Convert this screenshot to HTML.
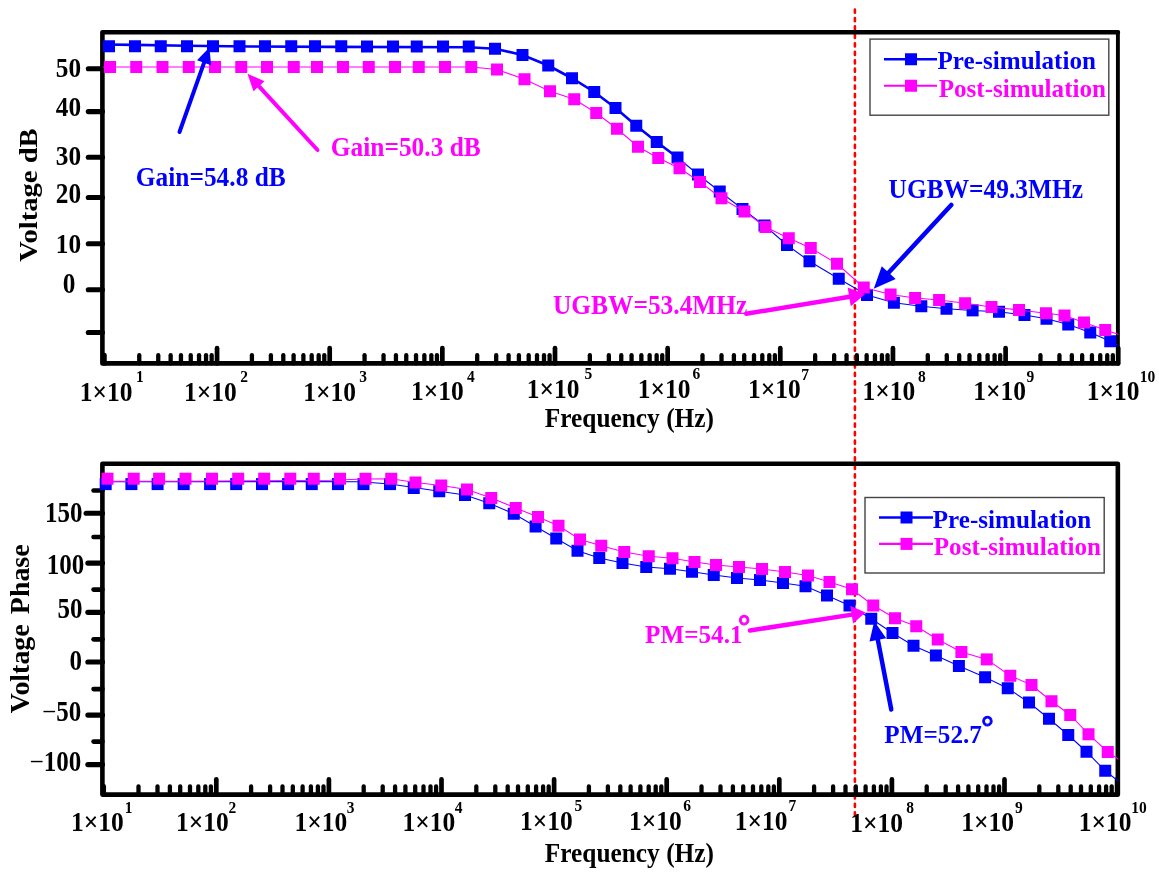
<!DOCTYPE html>
<html><head><meta charset="utf-8"><title>Bode plot</title>
<style>html,body{margin:0;padding:0;background:#fff}svg{display:block}text{font-family:"Liberation Serif","Times New Roman",serif;font-weight:bold}</style>
</head><body>
<svg width="1159" height="879" viewBox="0 0 1159 879">
<rect width="1159" height="879" fill="#fff"/>
<line x1="854.9" y1="9.5" x2="854.9" y2="819" stroke="#ff0000" stroke-width="2.6" stroke-dasharray="3.2 5.25" stroke-linecap="round"/>
<path d="M1117.9,32.3 L102.4,32.3 L102.4,363.4 L1117.9,363.4" fill="none" stroke="#000" stroke-width="4.6" stroke-linejoin="round" stroke-linecap="round"/>
<line x1="1117.9" y1="32.3" x2="1117.9" y2="363.4" stroke="#000" stroke-width="3.9" stroke-linecap="round"/>
<g stroke="#000" stroke-width="4.3" stroke-linecap="round"><line x1="104.4" y1="363.4" x2="104.4" y2="355.2" stroke-width="4.7"/><line x1="217.05" y1="363.4" x2="217.05" y2="348.2" stroke-width="4.7"/><line x1="139.25" y1="363.4" x2="139.25" y2="355.2"/><line x1="158.25" y1="363.4" x2="158.25" y2="355.2"/><line x1="170.65" y1="363.4" x2="170.65" y2="355.2"/><line x1="180.95" y1="363.4" x2="180.95" y2="355.2"/><line x1="190.75" y1="363.4" x2="190.75" y2="355.2"/><line x1="199.05" y1="363.4" x2="199.05" y2="355.2"/><line x1="206.05" y1="363.4" x2="206.05" y2="355.2"/><line x1="211.65" y1="363.4" x2="211.65" y2="355.2"/><line x1="329.7" y1="363.4" x2="329.7" y2="348.2" stroke-width="4.7"/><line x1="251.9" y1="363.4" x2="251.9" y2="355.2"/><line x1="270.9" y1="363.4" x2="270.9" y2="355.2"/><line x1="283.3" y1="363.4" x2="283.3" y2="355.2"/><line x1="293.6" y1="363.4" x2="293.6" y2="355.2"/><line x1="303.4" y1="363.4" x2="303.4" y2="355.2"/><line x1="311.7" y1="363.4" x2="311.7" y2="355.2"/><line x1="318.7" y1="363.4" x2="318.7" y2="355.2"/><line x1="324.3" y1="363.4" x2="324.3" y2="355.2"/><line x1="442.35" y1="363.4" x2="442.35" y2="348.2" stroke-width="4.7"/><line x1="364.55" y1="363.4" x2="364.55" y2="355.2"/><line x1="383.55" y1="363.4" x2="383.55" y2="355.2"/><line x1="395.95" y1="363.4" x2="395.95" y2="355.2"/><line x1="406.25" y1="363.4" x2="406.25" y2="355.2"/><line x1="416.05" y1="363.4" x2="416.05" y2="355.2"/><line x1="424.35" y1="363.4" x2="424.35" y2="355.2"/><line x1="431.35" y1="363.4" x2="431.35" y2="355.2"/><line x1="436.95" y1="363.4" x2="436.95" y2="355.2"/><line x1="555" y1="363.4" x2="555" y2="348.2" stroke-width="4.7"/><line x1="477.2" y1="363.4" x2="477.2" y2="355.2"/><line x1="496.2" y1="363.4" x2="496.2" y2="355.2"/><line x1="508.6" y1="363.4" x2="508.6" y2="355.2"/><line x1="518.9" y1="363.4" x2="518.9" y2="355.2"/><line x1="528.7" y1="363.4" x2="528.7" y2="355.2"/><line x1="537" y1="363.4" x2="537" y2="355.2"/><line x1="544" y1="363.4" x2="544" y2="355.2"/><line x1="549.6" y1="363.4" x2="549.6" y2="355.2"/><line x1="667.65" y1="363.4" x2="667.65" y2="348.2" stroke-width="4.7"/><line x1="589.85" y1="363.4" x2="589.85" y2="355.2"/><line x1="608.85" y1="363.4" x2="608.85" y2="355.2"/><line x1="621.25" y1="363.4" x2="621.25" y2="355.2"/><line x1="631.55" y1="363.4" x2="631.55" y2="355.2"/><line x1="641.35" y1="363.4" x2="641.35" y2="355.2"/><line x1="649.65" y1="363.4" x2="649.65" y2="355.2"/><line x1="656.65" y1="363.4" x2="656.65" y2="355.2"/><line x1="662.25" y1="363.4" x2="662.25" y2="355.2"/><line x1="780.3" y1="363.4" x2="780.3" y2="348.2" stroke-width="4.7"/><line x1="702.5" y1="363.4" x2="702.5" y2="355.2"/><line x1="721.5" y1="363.4" x2="721.5" y2="355.2"/><line x1="733.9" y1="363.4" x2="733.9" y2="355.2"/><line x1="744.2" y1="363.4" x2="744.2" y2="355.2"/><line x1="754" y1="363.4" x2="754" y2="355.2"/><line x1="762.3" y1="363.4" x2="762.3" y2="355.2"/><line x1="769.3" y1="363.4" x2="769.3" y2="355.2"/><line x1="774.9" y1="363.4" x2="774.9" y2="355.2"/><line x1="892.95" y1="363.4" x2="892.95" y2="348.2" stroke-width="4.7"/><line x1="815.15" y1="363.4" x2="815.15" y2="355.2"/><line x1="834.15" y1="363.4" x2="834.15" y2="355.2"/><line x1="846.55" y1="363.4" x2="846.55" y2="355.2"/><line x1="856.85" y1="363.4" x2="856.85" y2="355.2"/><line x1="866.65" y1="363.4" x2="866.65" y2="355.2"/><line x1="874.95" y1="363.4" x2="874.95" y2="355.2"/><line x1="881.95" y1="363.4" x2="881.95" y2="355.2"/><line x1="887.55" y1="363.4" x2="887.55" y2="355.2"/><line x1="1005.6" y1="363.4" x2="1005.6" y2="348.2" stroke-width="4.7"/><line x1="927.8" y1="363.4" x2="927.8" y2="355.2"/><line x1="946.8" y1="363.4" x2="946.8" y2="355.2"/><line x1="959.2" y1="363.4" x2="959.2" y2="355.2"/><line x1="969.5" y1="363.4" x2="969.5" y2="355.2"/><line x1="979.3" y1="363.4" x2="979.3" y2="355.2"/><line x1="987.6" y1="363.4" x2="987.6" y2="355.2"/><line x1="994.6" y1="363.4" x2="994.6" y2="355.2"/><line x1="1000.2" y1="363.4" x2="1000.2" y2="355.2"/><line x1="1118.25" y1="363.4" x2="1118.25" y2="348.2" stroke-width="4.7"/><line x1="1040.45" y1="363.4" x2="1040.45" y2="355.2"/><line x1="1059.45" y1="363.4" x2="1059.45" y2="355.2"/><line x1="1071.85" y1="363.4" x2="1071.85" y2="355.2"/><line x1="1082.15" y1="363.4" x2="1082.15" y2="355.2"/><line x1="1091.95" y1="363.4" x2="1091.95" y2="355.2"/><line x1="1100.25" y1="363.4" x2="1100.25" y2="355.2"/><line x1="1107.25" y1="363.4" x2="1107.25" y2="355.2"/><line x1="1112.85" y1="363.4" x2="1112.85" y2="355.2"/></g>
<g stroke="#000" stroke-width="5.1" stroke-linecap="round">
<line x1="88.3" y1="68.8" x2="102.4" y2="68.8"/>
<line x1="88.3" y1="111.6" x2="102.4" y2="111.6"/>
<line x1="88.3" y1="157.2" x2="102.4" y2="157.2"/>
<line x1="88.3" y1="197.5" x2="102.4" y2="197.5"/>
<line x1="88.3" y1="243.8" x2="102.4" y2="243.8"/>
<line x1="88.3" y1="289.7" x2="102.4" y2="289.7"/>
<line x1="88.3" y1="332.5" x2="102.4" y2="332.5"/>
</g>
<clipPath id="ct"><rect x="102.4" y="32.3" width="1016.0000000000001" height="331.09999999999997"/></clipPath>
<g clip-path="url(#ct)">
<polyline fill="none" stroke="#0000ff" stroke-width="2.6" points="102.4,44.5 135,44.9 187,45.7 250,46.5 330,46.9 468.75,47.2 495,48.75 522.5,55 548.25,65.5 572,78.25 594.25,92 615.5,108 636.25,125.75 656.75,142 677.5,157.5"/>
<polyline fill="none" stroke="#0000ff" stroke-width="1.05" points="677.5,157.5 698,174.5 719.75,191.5 742.5,209 764.5,225.5 787,245 809.5,261.25 838.75,278.75 867,295 893.9,302.75 921.3,306.25 946.5,308.75 972.6,310.4 999,311.75 1024.5,315 1046.5,318.75 1068.25,324.5 1090.25,332.5 1110.25,341.25 1118.9,345.5"/>
</g>
<g fill="#0000ff"><rect x="103" y="40.25" width="12" height="12"/><rect x="129" y="40.25" width="12" height="12"/><rect x="154.75" y="40.25" width="12" height="12"/><rect x="181" y="40.25" width="12" height="12"/><rect x="207" y="40.25" width="12" height="12"/><rect x="233.5" y="40.25" width="12" height="12"/><rect x="259" y="40.25" width="12" height="12"/><rect x="285.25" y="40.25" width="12" height="12"/><rect x="309" y="40.25" width="12" height="12"/><rect x="335.25" y="40.25" width="12" height="12"/><rect x="361" y="40.5" width="12" height="12"/><rect x="387" y="40.5" width="12" height="12"/><rect x="410.75" y="40.5" width="12" height="12"/><rect x="437" y="40.5" width="12" height="12"/><rect x="462.75" y="40.5" width="12" height="12"/><rect x="489" y="42.75" width="12" height="12"/><rect x="516.5" y="49" width="12" height="12"/><rect x="542.25" y="59.5" width="12" height="12"/><rect x="566" y="72.25" width="12" height="12"/><rect x="588.25" y="86" width="12" height="12"/><rect x="609.5" y="102" width="12" height="12"/><rect x="630.25" y="119.75" width="12" height="12"/><rect x="650.75" y="136" width="12" height="12"/><rect x="671.5" y="151.5" width="12" height="12"/><rect x="692" y="168.5" width="12" height="12"/><rect x="713.75" y="185.5" width="12" height="12"/><rect x="736.5" y="203" width="12" height="12"/><rect x="758.5" y="219.5" width="12" height="12"/><rect x="781" y="239" width="12" height="12"/><rect x="803.5" y="255.25" width="12" height="12"/><rect x="832.75" y="272.75" width="12" height="12"/><rect x="861" y="289" width="12" height="12"/><rect x="887.9" y="296.75" width="12" height="12"/><rect x="915.3" y="300.25" width="12" height="12"/><rect x="940.5" y="302.75" width="12" height="12"/><rect x="966.6" y="304.4" width="12" height="12"/><rect x="993" y="305.75" width="12" height="12"/><rect x="1018.5" y="309" width="12" height="12"/><rect x="1040.5" y="312.75" width="12" height="12"/><rect x="1062.25" y="318.5" width="12" height="12"/><rect x="1084.25" y="326.5" width="12" height="12"/><rect x="1104.25" y="335.25" width="12" height="12"/></g>
<g clip-path="url(#ct)">
<polyline fill="none" stroke="#ff00ff" stroke-width="1.05" points="102.4,67 110,67 136.25,67 162.5,67 188.75,67 215,67 241.25,67 267,67 293.75,67 317,67 343,67 368.75,67 395,67 418.75,67 445,67 471.25,67 497,69.5 524.5,79.25 550,91.25 574.25,99.25 596.25,113 617,128.75 638,146.75 658.25,158 679.5,168.25 700,182 721.5,198.25 744.4,211.5 765.5,227 788.75,238.25 810.75,248 837,263.75 863.75,287.5 890.6,294.5 915.1,298 939.1,300 965.1,303.25 991.5,307 1019,310 1046,313.25 1064.5,315.5 1084,322.5 1105.25,330 1118.9,334.5"/>
</g>
<g fill="#ff00ff"><rect x="104" y="61" width="12" height="12"/><rect x="130.25" y="61" width="12" height="12"/><rect x="156.5" y="61" width="12" height="12"/><rect x="182.75" y="61" width="12" height="12"/><rect x="209" y="61" width="12" height="12"/><rect x="235.25" y="61" width="12" height="12"/><rect x="261" y="61" width="12" height="12"/><rect x="287.75" y="61" width="12" height="12"/><rect x="311" y="61" width="12" height="12"/><rect x="337" y="61" width="12" height="12"/><rect x="362.75" y="61" width="12" height="12"/><rect x="389" y="61" width="12" height="12"/><rect x="412.75" y="61" width="12" height="12"/><rect x="439" y="61" width="12" height="12"/><rect x="465.25" y="61" width="12" height="12"/><rect x="491" y="63.5" width="12" height="12"/><rect x="518.5" y="73.25" width="12" height="12"/><rect x="544" y="85.25" width="12" height="12"/><rect x="568.25" y="93.25" width="12" height="12"/><rect x="590.25" y="107" width="12" height="12"/><rect x="611" y="122.75" width="12" height="12"/><rect x="632" y="140.75" width="12" height="12"/><rect x="652.25" y="152" width="12" height="12"/><rect x="673.5" y="162.25" width="12" height="12"/><rect x="694" y="176" width="12" height="12"/><rect x="715.5" y="192.25" width="12" height="12"/><rect x="738.4" y="205.5" width="12" height="12"/><rect x="759.5" y="221" width="12" height="12"/><rect x="782.75" y="232.25" width="12" height="12"/><rect x="804.75" y="242" width="12" height="12"/><rect x="831" y="257.75" width="12" height="12"/><rect x="857.75" y="281.5" width="12" height="12"/><rect x="884.6" y="288.5" width="12" height="12"/><rect x="909.1" y="292" width="12" height="12"/><rect x="933.1" y="294" width="12" height="12"/><rect x="959.1" y="297.25" width="12" height="12"/><rect x="985.5" y="301" width="12" height="12"/><rect x="1013" y="304" width="12" height="12"/><rect x="1040" y="307.25" width="12" height="12"/><rect x="1058.5" y="309.5" width="12" height="12"/><rect x="1078" y="316.5" width="12" height="12"/><rect x="1099.25" y="324" width="12" height="12"/></g>
<line x1="179.5" y1="132" x2="204.72" y2="60.8" stroke="#0000ff" stroke-width="4" stroke-linecap="round"/><polygon fill="#0000ff" points="209.4,47.6 211.13,65.19 196.99,60.18"/>
<line x1="317.5" y1="150" x2="257.64" y2="84.8" stroke="#ff00ff" stroke-width="4" stroke-linecap="round"/><polygon fill="#ff00ff" points="247.5,73.75 264.52,81.2 253.47,91.35"/>
<line x1="951.25" y1="205" x2="887.33" y2="274.07" stroke="#0000ff" stroke-width="4.5" stroke-linecap="round"/><polygon fill="#0000ff" points="873.75,288.75 881.72,266.15 895.66,279.06"/>
<line x1="746.25" y1="313.75" x2="851.19" y2="296.47" stroke="#ff00ff" stroke-width="4.5" stroke-linecap="round"/><polygon fill="#ff00ff" points="865,294.2 850.76,306.17 847.67,287.43"/>
<g font-size="25.3" text-anchor="end">
<text transform="translate(81.1,67.2) scale(1,1.12)" x="0" y="8.45">50</text>
<text transform="translate(81.1,106.8) scale(1,1.09)" x="0" y="8.45">40</text>
<text transform="translate(81.1,156) scale(1,1.09)" x="0" y="8.45">30</text>
<text transform="translate(81.1,193.3) scale(1,1.15)" x="0" y="8.45">20</text>
<text transform="translate(81.1,243.2) scale(1,1.1)" x="0" y="8.45">10</text>
<text transform="translate(75.3,282.8) scale(1,1.15)" x="0" y="8.45">0</text>
</g>
<text transform="translate(37.3,195) rotate(-90) scale(1.145,1)" text-anchor="middle" font-size="25">Voltage dB</text>
<text transform="translate(79.7,400.5) scale(1,1.09)" font-size="25.5">1×10</text><text transform="translate(135.9,382.4) scale(1,1.1)" font-size="15.5">1</text>
<text transform="translate(184,400.5) scale(1,1.09)" font-size="25.5">1×10</text><text transform="translate(240.3,382.4) scale(1,1.1)" font-size="15.5">2</text>
<text transform="translate(303.3,400.5) scale(1,1.09)" font-size="25.5">1×10</text><text transform="translate(359.3,382.4) scale(1,1.1)" font-size="15.5">3</text>
<text transform="translate(411.1,399.9) scale(1,1.09)" font-size="25.5">1×10</text><text transform="translate(467.1,381.8) scale(1,1.1)" font-size="15.5">4</text>
<text transform="translate(526.7,397.5) scale(1,1.09)" font-size="25.5">1×10</text><text transform="translate(584.4,379.4) scale(1,1.1)" font-size="15.5">5</text>
<text transform="translate(637.8,397.5) scale(1,1.09)" font-size="25.5">1×10</text><text transform="translate(692.5,379.4) scale(1,1.1)" font-size="15.5">6</text>
<text transform="translate(748,398.3) scale(1,1.09)" font-size="25.5">1×10</text><text transform="translate(801.3,380.2) scale(1,1.1)" font-size="15.5">7</text>
<text transform="translate(862.6,400.2) scale(1,1.09)" font-size="25.5">1×10</text><text transform="translate(918.1,382.1) scale(1,1.1)" font-size="15.5">8</text>
<text transform="translate(973.3,400.2) scale(1,1.09)" font-size="25.5">1×10</text><text transform="translate(1026.5,382.1) scale(1,1.1)" font-size="15.5">9</text>
<text transform="translate(1086.8,400.2) scale(1,1.09)" font-size="25.5">1×10</text><text transform="translate(1139.7,382.1) scale(1,1.1)" font-size="15.5">10</text>
<text transform="translate(544.8,426.6) scale(1,1.04)" font-size="25.35" fill="#000">Frequency (Hz)</text>
<text transform="translate(135.8,185.5) scale(1,1.04)" font-size="25.4" fill="#0000ff">Gain=54.8 dB</text><text transform="translate(330.8,155.5) scale(1,1.04)" font-size="25.4" fill="#ff00ff">Gain=50.3 dB</text><text transform="translate(888.6,198) scale(1,1.04)" font-size="25.4" fill="#0000ff">UGBW=49.3MHz</text><text transform="translate(553,314.3) scale(1,1.04)" font-size="25.4" fill="#ff00ff">UGBW=53.4MHz</text>
<rect x="870" y="39.1" width="238.79999999999995" height="76.1" fill="#fff" stroke="#444" stroke-width="1.4"/><line x1="884" y1="59.25" x2="937" y2="59.25" stroke="#0000ff" stroke-width="2.7"/><rect x="905" y="53.25" width="12" height="12" fill="#0000ff"/><line x1="884" y1="85.75" x2="937" y2="85.75" stroke="#ff00ff" stroke-width="2.1"/><rect x="905" y="79.75" width="12" height="12" fill="#ff00ff"/><text transform="translate(937.5,69.05) scale(1,1.04)" font-size="25.1" fill="#0000ff">Pre-simulation</text><text transform="translate(938.7,96.55) scale(1,1.04)" font-size="25.1" fill="#ff00ff">Post-simulation</text>
<rect x="102.4" y="463.8" width="1015.4499999999999" height="330.8" fill="none" stroke="#000" stroke-width="4.6" stroke-linejoin="round"/>
<g stroke="#000" stroke-width="4.3" stroke-linecap="round"><line x1="103.7" y1="794.6" x2="103.7" y2="786.4" stroke-width="4.7"/><line x1="216.3" y1="794.6" x2="216.3" y2="779.4" stroke-width="4.7"/><line x1="138.5" y1="794.6" x2="138.5" y2="786.4"/><line x1="157.5" y1="794.6" x2="157.5" y2="786.4"/><line x1="169.9" y1="794.6" x2="169.9" y2="786.4"/><line x1="180.2" y1="794.6" x2="180.2" y2="786.4"/><line x1="190" y1="794.6" x2="190" y2="786.4"/><line x1="198.3" y1="794.6" x2="198.3" y2="786.4"/><line x1="205.3" y1="794.6" x2="205.3" y2="786.4"/><line x1="210.9" y1="794.6" x2="210.9" y2="786.4"/><line x1="328.9" y1="794.6" x2="328.9" y2="779.4" stroke-width="4.7"/><line x1="251.1" y1="794.6" x2="251.1" y2="786.4"/><line x1="270.1" y1="794.6" x2="270.1" y2="786.4"/><line x1="282.5" y1="794.6" x2="282.5" y2="786.4"/><line x1="292.8" y1="794.6" x2="292.8" y2="786.4"/><line x1="302.6" y1="794.6" x2="302.6" y2="786.4"/><line x1="310.9" y1="794.6" x2="310.9" y2="786.4"/><line x1="317.9" y1="794.6" x2="317.9" y2="786.4"/><line x1="323.5" y1="794.6" x2="323.5" y2="786.4"/><line x1="441.5" y1="794.6" x2="441.5" y2="779.4" stroke-width="4.7"/><line x1="363.7" y1="794.6" x2="363.7" y2="786.4"/><line x1="382.7" y1="794.6" x2="382.7" y2="786.4"/><line x1="395.1" y1="794.6" x2="395.1" y2="786.4"/><line x1="405.4" y1="794.6" x2="405.4" y2="786.4"/><line x1="415.2" y1="794.6" x2="415.2" y2="786.4"/><line x1="423.5" y1="794.6" x2="423.5" y2="786.4"/><line x1="430.5" y1="794.6" x2="430.5" y2="786.4"/><line x1="436.1" y1="794.6" x2="436.1" y2="786.4"/><line x1="554.1" y1="794.6" x2="554.1" y2="779.4" stroke-width="4.7"/><line x1="476.3" y1="794.6" x2="476.3" y2="786.4"/><line x1="495.3" y1="794.6" x2="495.3" y2="786.4"/><line x1="507.7" y1="794.6" x2="507.7" y2="786.4"/><line x1="518" y1="794.6" x2="518" y2="786.4"/><line x1="527.8" y1="794.6" x2="527.8" y2="786.4"/><line x1="536.1" y1="794.6" x2="536.1" y2="786.4"/><line x1="543.1" y1="794.6" x2="543.1" y2="786.4"/><line x1="548.7" y1="794.6" x2="548.7" y2="786.4"/><line x1="666.7" y1="794.6" x2="666.7" y2="779.4" stroke-width="4.7"/><line x1="588.9" y1="794.6" x2="588.9" y2="786.4"/><line x1="607.9" y1="794.6" x2="607.9" y2="786.4"/><line x1="620.3" y1="794.6" x2="620.3" y2="786.4"/><line x1="630.6" y1="794.6" x2="630.6" y2="786.4"/><line x1="640.4" y1="794.6" x2="640.4" y2="786.4"/><line x1="648.7" y1="794.6" x2="648.7" y2="786.4"/><line x1="655.7" y1="794.6" x2="655.7" y2="786.4"/><line x1="661.3" y1="794.6" x2="661.3" y2="786.4"/><line x1="779.3" y1="794.6" x2="779.3" y2="779.4" stroke-width="4.7"/><line x1="701.5" y1="794.6" x2="701.5" y2="786.4"/><line x1="720.5" y1="794.6" x2="720.5" y2="786.4"/><line x1="732.9" y1="794.6" x2="732.9" y2="786.4"/><line x1="743.2" y1="794.6" x2="743.2" y2="786.4"/><line x1="753" y1="794.6" x2="753" y2="786.4"/><line x1="761.3" y1="794.6" x2="761.3" y2="786.4"/><line x1="768.3" y1="794.6" x2="768.3" y2="786.4"/><line x1="773.9" y1="794.6" x2="773.9" y2="786.4"/><line x1="891.9" y1="794.6" x2="891.9" y2="779.4" stroke-width="4.7"/><line x1="814.1" y1="794.6" x2="814.1" y2="786.4"/><line x1="833.1" y1="794.6" x2="833.1" y2="786.4"/><line x1="845.5" y1="794.6" x2="845.5" y2="786.4"/><line x1="855.8" y1="794.6" x2="855.8" y2="786.4"/><line x1="865.6" y1="794.6" x2="865.6" y2="786.4"/><line x1="873.9" y1="794.6" x2="873.9" y2="786.4"/><line x1="880.9" y1="794.6" x2="880.9" y2="786.4"/><line x1="886.5" y1="794.6" x2="886.5" y2="786.4"/><line x1="1004.5" y1="794.6" x2="1004.5" y2="779.4" stroke-width="4.7"/><line x1="926.7" y1="794.6" x2="926.7" y2="786.4"/><line x1="945.7" y1="794.6" x2="945.7" y2="786.4"/><line x1="958.1" y1="794.6" x2="958.1" y2="786.4"/><line x1="968.4" y1="794.6" x2="968.4" y2="786.4"/><line x1="978.2" y1="794.6" x2="978.2" y2="786.4"/><line x1="986.5" y1="794.6" x2="986.5" y2="786.4"/><line x1="993.5" y1="794.6" x2="993.5" y2="786.4"/><line x1="999.1" y1="794.6" x2="999.1" y2="786.4"/><line x1="1117.1" y1="794.6" x2="1117.1" y2="779.4" stroke-width="4.7"/><line x1="1039.3" y1="794.6" x2="1039.3" y2="786.4"/><line x1="1058.3" y1="794.6" x2="1058.3" y2="786.4"/><line x1="1070.7" y1="794.6" x2="1070.7" y2="786.4"/><line x1="1081" y1="794.6" x2="1081" y2="786.4"/><line x1="1090.8" y1="794.6" x2="1090.8" y2="786.4"/><line x1="1099.1" y1="794.6" x2="1099.1" y2="786.4"/><line x1="1106.1" y1="794.6" x2="1106.1" y2="786.4"/><line x1="1111.7" y1="794.6" x2="1111.7" y2="786.4"/></g>
<g stroke="#000" stroke-width="5.2" stroke-linecap="round">
<line x1="86.2" y1="513.25" x2="102.4" y2="513.25"/>
<line x1="87.9" y1="563.1" x2="102.4" y2="563.1"/>
<line x1="87.9" y1="612.3" x2="102.4" y2="612.3"/>
<line x1="87.9" y1="662" x2="102.4" y2="662"/>
<line x1="87.9" y1="715.1" x2="102.4" y2="715.1"/>
<line x1="87.9" y1="764.6" x2="102.4" y2="764.6"/>
</g><g stroke="#000" stroke-width="4.7" stroke-linecap="round">
<line x1="93.6" y1="490.5" x2="102.4" y2="490.5"/>
<line x1="93.6" y1="537" x2="102.4" y2="537"/>
<line x1="93.6" y1="589.6" x2="102.4" y2="589.6"/>
<line x1="93.6" y1="639.3" x2="102.4" y2="639.3"/>
<line x1="93.6" y1="689.1" x2="102.4" y2="689.1"/>
<line x1="93.6" y1="741.6" x2="102.4" y2="741.6"/>
</g>
<clipPath id="cb"><rect x="102.4" y="463.8" width="1015.9499999999999" height="330.8"/></clipPath>
<g clip-path="url(#cb)">
<polyline fill="none" stroke="#0000ff" stroke-width="1.05" points="102.4,481.8 300,481.6 360,481.8 390,484 413.75,487.5 439.25,491.25 465,495 489.25,503.25 513.75,513.75 535.6,526.5 556.25,538.5 577.5,550.75 599.25,558 622.5,563 646.25,567 670,568.75 692,571.75 713.75,575 737,578 760,580 783,583 805.5,586.25 827,595.5 849.5,605.5 871.25,618.75 892.5,633 913.5,645.75 935.9,655.5 958.9,666 985.1,677.25 1007.75,688.25 1029,702.5 1049,718.75 1068.25,735 1086.5,751.75 1105.25,770.75 1118.85,781.5"/>
</g>
<g fill="#0000ff"><rect x="99.7" y="478.1" width="12" height="12"/><rect x="125.4" y="478.1" width="12" height="12"/><rect x="151.6" y="478.1" width="12" height="12"/><rect x="177.7" y="478.1" width="12" height="12"/><rect x="204.1" y="478.1" width="12" height="12"/><rect x="230.2" y="478.1" width="12" height="12"/><rect x="256" y="478.1" width="12" height="12"/><rect x="282.1" y="478.1" width="12" height="12"/><rect x="305.75" y="478.1" width="12" height="12"/><rect x="332" y="478.1" width="12" height="12"/><rect x="357.5" y="478.1" width="12" height="12"/><rect x="384" y="478.1" width="12" height="12"/><rect x="407.75" y="482" width="12" height="12"/><rect x="433.25" y="485.25" width="12" height="12"/><rect x="459" y="489" width="12" height="12"/><rect x="483.25" y="497.25" width="12" height="12"/><rect x="507.75" y="507.75" width="12" height="12"/><rect x="529.6" y="520.5" width="12" height="12"/><rect x="550.25" y="532.5" width="12" height="12"/><rect x="571.5" y="544.75" width="12" height="12"/><rect x="593.25" y="552" width="12" height="12"/><rect x="616.5" y="557" width="12" height="12"/><rect x="640.25" y="561" width="12" height="12"/><rect x="664" y="562.75" width="12" height="12"/><rect x="686" y="565.75" width="12" height="12"/><rect x="707.75" y="569" width="12" height="12"/><rect x="731" y="572" width="12" height="12"/><rect x="754" y="574" width="12" height="12"/><rect x="777" y="577" width="12" height="12"/><rect x="799.5" y="580.25" width="12" height="12"/><rect x="821" y="589.5" width="12" height="12"/><rect x="843.5" y="599.5" width="12" height="12"/><rect x="865.25" y="612.75" width="12" height="12"/><rect x="886.5" y="627" width="12" height="12"/><rect x="907.5" y="639.75" width="12" height="12"/><rect x="929.9" y="649.5" width="12" height="12"/><rect x="952.9" y="660" width="12" height="12"/><rect x="979.1" y="671.25" width="12" height="12"/><rect x="1001.75" y="682.25" width="12" height="12"/><rect x="1023" y="696.5" width="12" height="12"/><rect x="1043" y="712.75" width="12" height="12"/><rect x="1062.25" y="729" width="12" height="12"/><rect x="1080.5" y="745.75" width="12" height="12"/><rect x="1099.25" y="764.75" width="12" height="12"/></g>
<g clip-path="url(#cb)">
<polyline fill="none" stroke="#ff00ff" stroke-width="1.05" points="102.4,481.3 180,481.2 260,480.8 330,480.2 365,479 391,478.7 415.5,482.5 441.25,485.5 467,489.5 491.25,498 515.75,508 538,517 558.5,525.75 580,539.5 601.25,545.75 624.25,552 648.75,556.25 672.5,558.25 694.5,562 716,565 739,567 762,569 785,572 808,575.5 829.5,582 852,589.25 873.25,605.5 895,618.25 916.25,626.25 937.75,639.5 961.4,652 986.75,659.4 1010.25,675.75 1031.5,685 1051.5,701.25 1070.25,715 1088.5,734.25 1107.75,752 1118.85,759.5"/>
</g>
<g fill="#ff00ff"><rect x="101.5" y="472.7" width="12" height="12"/><rect x="127.7" y="472.7" width="12" height="12"/><rect x="153.1" y="472.7" width="12" height="12"/><rect x="179.5" y="472.7" width="12" height="12"/><rect x="206" y="472.7" width="12" height="12"/><rect x="232.2" y="472.7" width="12" height="12"/><rect x="258.2" y="472.7" width="12" height="12"/><rect x="284.3" y="472.7" width="12" height="12"/><rect x="307.75" y="472.75" width="12" height="12"/><rect x="334" y="472.75" width="12" height="12"/><rect x="359.5" y="472.75" width="12" height="12"/><rect x="385.25" y="472.75" width="12" height="12"/><rect x="409.5" y="476.5" width="12" height="12"/><rect x="435.25" y="479.5" width="12" height="12"/><rect x="461" y="483.5" width="12" height="12"/><rect x="485.25" y="492" width="12" height="12"/><rect x="509.75" y="502" width="12" height="12"/><rect x="532" y="511" width="12" height="12"/><rect x="552.5" y="519.75" width="12" height="12"/><rect x="574" y="533.5" width="12" height="12"/><rect x="595.25" y="539.75" width="12" height="12"/><rect x="618.25" y="546" width="12" height="12"/><rect x="642.75" y="550.25" width="12" height="12"/><rect x="666.5" y="552.25" width="12" height="12"/><rect x="688.5" y="556" width="12" height="12"/><rect x="710" y="559" width="12" height="12"/><rect x="733" y="561" width="12" height="12"/><rect x="756" y="563" width="12" height="12"/><rect x="779" y="566" width="12" height="12"/><rect x="802" y="569.5" width="12" height="12"/><rect x="823.5" y="576" width="12" height="12"/><rect x="846" y="583.25" width="12" height="12"/><rect x="867.25" y="599.5" width="12" height="12"/><rect x="889" y="612.25" width="12" height="12"/><rect x="910.25" y="620.25" width="12" height="12"/><rect x="931.75" y="633.5" width="12" height="12"/><rect x="955.4" y="646" width="12" height="12"/><rect x="980.75" y="653.4" width="12" height="12"/><rect x="1004.25" y="669.75" width="12" height="12"/><rect x="1025.5" y="679" width="12" height="12"/><rect x="1045.5" y="695.25" width="12" height="12"/><rect x="1064.25" y="709" width="12" height="12"/><rect x="1082.5" y="728.25" width="12" height="12"/><rect x="1101.75" y="746" width="12" height="12"/></g>
<rect x="865" y="497.5" width="239.20000000000005" height="75.5" fill="#fff" stroke="#444" stroke-width="1.4"/><line x1="879" y1="517.5" x2="933" y2="517.5" stroke="#0000ff" stroke-width="2.7"/><rect x="900.5" y="511.5" width="12" height="12" fill="#0000ff"/><line x1="879" y1="543.9" x2="933" y2="543.9" stroke="#ff00ff" stroke-width="2.1"/><rect x="900.5" y="537.9" width="12" height="12" fill="#ff00ff"/><text transform="translate(932.8,528) scale(1,1.04)" font-size="25.1" fill="#0000ff">Pre-simulation</text><text transform="translate(933.8,555) scale(1,1.04)" font-size="25.1" fill="#ff00ff">Post-simulation</text>
<line x1="750" y1="630.5" x2="853.64" y2="614.35" stroke="#ff00ff" stroke-width="4.5" stroke-linecap="round"/><polygon fill="#ff00ff" points="865.5,612.5 853.05,623.55 850.28,605.76"/>
<line x1="891.25" y1="709.5" x2="877.47" y2="637.94" stroke="#0000ff" stroke-width="4.5" stroke-linecap="round"/><polygon fill="#0000ff" points="874.25,621.25 886.19,638.3 869.5,641.51"/>
<g font-size="25" text-anchor="end">
<text transform="translate(82.4,513) scale(1,1.14)" x="0" y="8.3">150</text>
<text transform="translate(84.2,564.6) scale(1,1.14)" x="0" y="8.3">100</text>
<text transform="translate(82.4,608.4) scale(1,1.14)" x="0" y="8.3">50</text>
<text transform="translate(82.1,661) scale(1,1.14)" x="0" y="8.3">0</text>
<text transform="translate(81.2,711.5) scale(1,1.14)" x="0" y="8.3"><tspan font-weight="normal">−</tspan>50</text>
<text transform="translate(81.2,761.5) scale(1,1.14)" x="0" y="8.3"><tspan font-weight="normal">−</tspan>100</text>
</g>
<text transform="translate(28.8,628.8) rotate(-90)" text-anchor="middle" font-size="27.9" word-spacing="3.2">Voltage Phase</text>
<text transform="translate(70.9,831.1) scale(1,1.08)" font-size="25.5">1×10</text><text transform="translate(124.8,812.7) scale(1,1.09)" font-size="15.5">1</text>
<text transform="translate(175.9,831.1) scale(1,1.08)" font-size="25.5">1×10</text><text transform="translate(228.55,812.7) scale(1,1.09)" font-size="15.5">2</text>
<text transform="translate(294.4,831.1) scale(1,1.08)" font-size="25.5">1×10</text><text transform="translate(346.8,812.7) scale(1,1.09)" font-size="15.5">3</text>
<text transform="translate(402.4,831.1) scale(1,1.08)" font-size="25.5">1×10</text><text transform="translate(454.8,812.7) scale(1,1.09)" font-size="15.5">4</text>
<text transform="translate(520.1,829.8) scale(1,1.08)" font-size="25.5">1×10</text><text transform="translate(574.5,811.4) scale(1,1.09)" font-size="15.5">5</text>
<text transform="translate(629.1,829.8) scale(1,1.08)" font-size="25.5">1×10</text><text transform="translate(683.3,811.4) scale(1,1.09)" font-size="15.5">6</text>
<text transform="translate(734.8,829.8) scale(1,1.08)" font-size="25.5">1×10</text><text transform="translate(788.4,811.4) scale(1,1.09)" font-size="15.5">7</text>
<text transform="translate(850.2,831.6) scale(1,1.08)" font-size="25.5">1×10</text><text transform="translate(906.2,813.2) scale(1,1.09)" font-size="15.5">8</text>
<text transform="translate(961.15,831.1) scale(1,1.08)" font-size="25.5">1×10</text><text transform="translate(1015.05,812.7) scale(1,1.09)" font-size="15.5">9</text>
<text transform="translate(1078.65,831.1) scale(1,1.08)" font-size="25.5">1×10</text><text transform="translate(1131.3,812.7) scale(1,1.09)" font-size="15.5">10</text>
<text transform="translate(544.8,861.8) scale(1,1.04)" font-size="25.35" fill="#000">Frequency (Hz)</text>
<text transform="translate(645,643.3) scale(1,1.04)" font-size="25.2" fill="#ff00ff">PM=54.1</text><text transform="translate(884.3,742.6) scale(1,1.04)" font-size="25.2" fill="#0000ff">PM=52.7</text>
<text x="737.9" y="636.6" font-size="31" fill="#ff00ff" stroke="#ff00ff" stroke-width="1">°</text><text x="981.2" y="738.1" font-size="31" fill="#0000ff" stroke="#0000ff" stroke-width="1">°</text>
</svg></body></html>
